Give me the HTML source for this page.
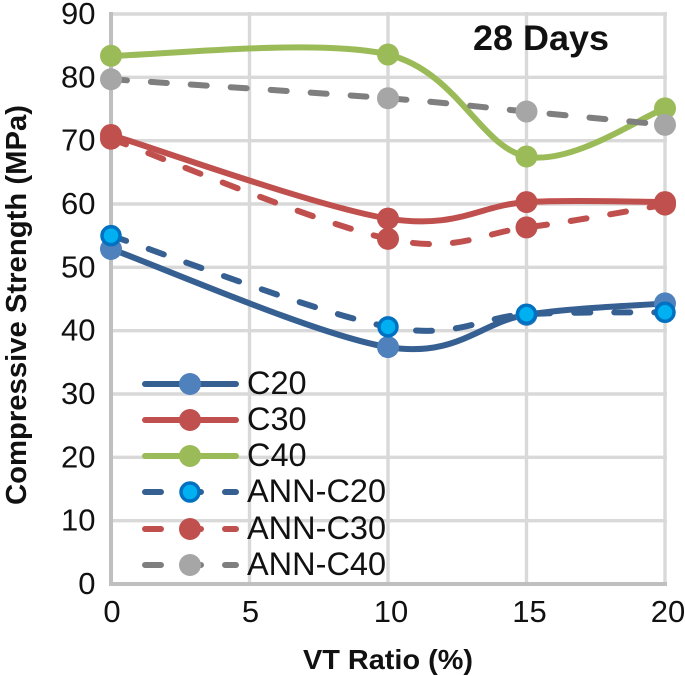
<!DOCTYPE html>
<html>
<head>
<meta charset="utf-8">
<style>
html,body{margin:0;padding:0;background:#fff;width:685px;height:676px;overflow:hidden}
svg{display:block}
text{font-family:"Liberation Sans",sans-serif;fill:#111}
</style>
</head>
<body>
<svg id="chart" width="685" height="676" viewBox="0 0 685 676" xmlns="http://www.w3.org/2000/svg">
  <text x="541" y="50" text-anchor="middle" font-size="35.5" font-weight="bold" textLength="136" lengthAdjust="spacingAndGlyphs">28 Days</text>
  <text x="388" y="669" text-anchor="middle" font-size="28" font-weight="bold" textLength="170" lengthAdjust="spacingAndGlyphs">VT Ratio (%)</text>
  <text transform="translate(26,305) rotate(-90)" text-anchor="middle" font-size="28.5" font-weight="bold" textLength="400" lengthAdjust="spacingAndGlyphs">Compressive Strength (MPa)</text>
</svg>
<script>
const xValues = [0, 10, 15, 20];
const xTicks = [0, 5, 10, 15, 20];
const yTicks = [0, 10, 20, 30, 40, 50, 60, 70, 80, 90];
const c20 = [52.9, 37.4, 42.5, 44.3];
const c30 = [70.9, 57.7, 60.3, 60.3];
const c40 = [83.4, 83.6, 67.5, 75.1];
const annC20 = [55.0, 40.6, 42.6, 42.9];
const annC30 = [70.3, 54.5, 56.3, 59.9];
const annC40 = [79.7, 76.7, 74.6, 72.5];
const seriesNames = ['C20', 'C30', 'C40', 'ANN-C20', 'ANN-C30', 'ANN-C40'];

const svg = document.getElementById('chart');
const NS = 'http://www.w3.org/2000/svg';
const x = v => 111 + v * (665 - 111) / 20;
const y = v => 584 - v * (584 - 14) / 90;

function mk(tag, attrs, parent) {
  const e = document.createElementNS(NS, tag);
  for (const k in attrs) e.setAttribute(k, attrs[k]);
  (parent || svg).insertBefore(e, parent ? null : svg.firstChild && svg.querySelector('text'));
  return e;
}

// gridlines
yTicks.forEach(t => {
  if (t === 0) return;
  const g = mk('line', {x1: x(0), x2: x(20) + 2, y1: y(t), y2: y(t), stroke: '#d9d9d9', 'stroke-width': 3.4});
  
  
});
xTicks.forEach(t => {
  if (t === 0) return;
  const g = mk('line', {x1: x(t), x2: x(t), y1: y(90) - 2, y2: y(0), stroke: '#d9d9d9', 'stroke-width': 3.4});
  
  
});
// axes
const yAxis = mk('line', {x1: x(0), x2: x(0), y1: y(90) - 2, y2: y(0) + 2, stroke: '#bfbfbf', 'stroke-width': 4});


const xAxis = mk('line', {x1: x(0) - 2, x2: x(20) + 2, y1: y(0), y2: y(0), stroke: '#bfbfbf', 'stroke-width': 4});



// tick labels
yTicks.forEach(t => {
  const e = mk('text', {x: 95.5, y: y(t) + 10, 'text-anchor': 'end', 'font-size': 31});
  e.textContent = t;
  
  
});
xTicks.forEach(t => {
  const e = mk('text', {x: x(t) + (t >= 10 ? 3 : 1), y: 622, 'text-anchor': 'middle', 'font-size': 31});
  e.textContent = t;
  
  
});

function smooth(xs, ys) {
  const p = xs.map((v, i) => [x(v), y(ys[i])]);
  let d = 'M' + p[0][0] + ' ' + p[0][1];
  for (let i = 0; i < p.length - 1; i++) {
    const a = p[Math.max(i - 1, 0)], b = p[i], c = p[i + 1], e = p[Math.min(i + 2, p.length - 1)];
    d += ' C' + (b[0] + (c[0] - a[0]) / 6) + ' ' + (b[1] + (c[1] - a[1]) / 6) + ' ' +
         (c[0] - (e[0] - b[0]) / 6) + ' ' + (c[1] - (e[1] - b[1]) / 6) + ' ' + c[0] + ' ' + c[1];
  }
  return d;
}

const seriesValues = [c20, c30, c40, annC20, annC30, annC40];
const lineColors = ['#376092', '#c0504d', '#9bbb59', '#376092', '#c0504d', '#7f7f7f'];
const markFill = ['#4f81bd', '#c0504d', '#9bbb59', '#00b0f0', '#c0504d', '#a6a6a6'];
const markStroke = ['#4f81bd', '#c0504d', '#9bbb59', '#0070c0', '#c0504d', '#a6a6a6'];
const legendRowY = [384, 420, 456, 492, 529, 565];

function lineAttrs(i) {
  const a = {fill: 'none', stroke: lineColors[i], 'stroke-width': 6, 'stroke-linecap': 'round'};
  if (i >= 3) a['stroke-dasharray'] = '16 24';
  return a;
}
function marker(cx, cy, i, parent) {
  const inner = i === 3;
  return mk('circle', {cx: cx, cy: cy, r: inner ? 9 : 11, fill: markFill[i], stroke: markStroke[i], 'stroke-width': inner ? 3.5 : 0}, parent);
}

seriesValues.forEach((vals, i) => {
  const g = mk('g', {});
  
  
  const path = mk('path', Object.assign({d: smooth(xValues, vals)}, lineAttrs(i)), g);
  
  
  vals.forEach((v, j) => {
    const m = marker(x(xValues[j]), y(v), i, g);
    
    
  });
});

// legend
const legend = mk('g', {});


seriesNames.forEach((name, i) => {
  const ly = legendRowY[i];
  const row = mk('g', {}, legend);
  
  
  const l = mk('line', Object.assign({x1: 145, x2: 236, y1: ly, y2: ly}, lineAttrs(i)), row);
  
  
  const m = marker(190, ly, i, row);
  
  
  const t = mk('text', {x: 247, y: ly + 10, 'font-size': 32.5}, row);
  t.textContent = name;
  
  
});
</script>
</body>
</html>
